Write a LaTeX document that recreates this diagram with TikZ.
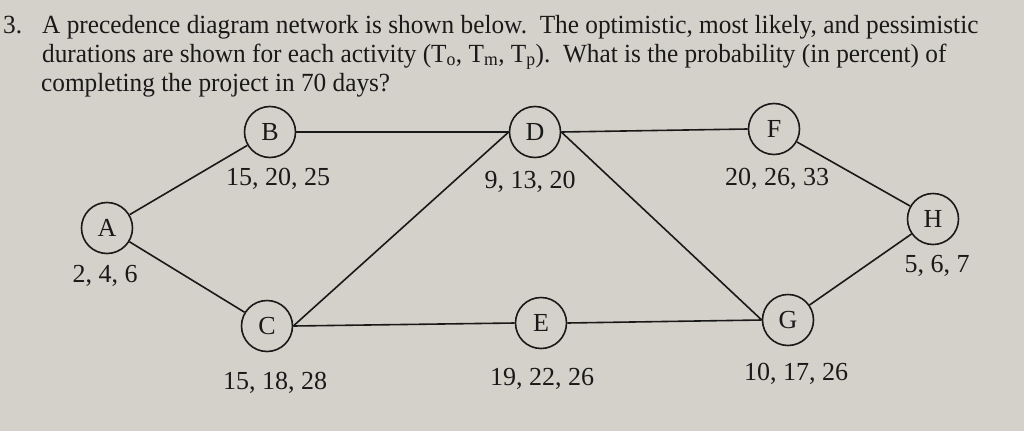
\documentclass[tikz,border=0pt]{standalone}
\usepackage{fontspec}
\setmainfont{Liberation Serif}
\newfontfamily\qfont[FakeStretch=0.965]{Liberation Serif}
\definecolor{paper}{RGB}{212,209,202}
\definecolor{ink}{RGB}{25,25,25}
\begin{document}
\begin{tikzpicture}[x=1pt,y=-1pt,
  act/.style={circle,draw=ink,line width=1.6pt,minimum size=51pt,inner sep=0pt,
    font=\fontsize{26}{28}\selectfont,text=ink},
  dur/.style={font=\fontsize{26}{28}\selectfont,text=ink,inner sep=0pt},
  txt/.style={font=\qfont\fontsize{26.2}{30}\selectfont,text=ink,inner sep=0pt,anchor=base west},
  link/.style={draw=ink,line width=1.6pt}]
\fill[paper] (0,0) rectangle (1024,431);
\useasboundingbox (0,0) rectangle (1024,431);
% question text
\node[txt] (q0) at (3,33) {3.};
\node[txt] (q1) at (42,33) {A precedence diagram network is shown below.\ \ The optimistic, most likely, and pessimistic};
\node[txt] (q2) at (42,62) {durations are shown for each activity (T\textsubscript{o}, T\textsubscript{m}, T\textsubscript{p}).\ \ What is the probability (in percent) of};
\node[txt] (q3) at (41,91) {completing the project in 70 days?};
% activities
\node[act] (A) at (107,228) {A};
\node[act] (B) at (270,132) {B};
\node[act] (C) at (267,326) {C};
\node[act] (D) at (535,132) {D};
\node[act] (E) at (541,323) {E};
\node[act] (F) at (774,129) {F};
\node[act] (G) at (788,320) {G};
\node[act] (H) at (933,219) {H};
% durations
\node[dur] (dA) at (105,276) {2, 4, 6};
\node[dur] (dB) at (278,179) {15, 20, 25};
\node[dur] (dD) at (530,182) {9, 13, 20};
\node[dur] (dF) at (777,179) {20, 26, 33};
\node[dur] (dH) at (937,266) {5, 6, 7};
\node[dur] (dC) at (275,383) {15, 18, 28};
\node[dur] (dE) at (542,379) {19, 22, 26};
\node[dur] (dG) at (796,374) {10, 17, 26};
% connectors
\draw[link] (A) -- (B);
\draw[link] (A) -- (C);
\draw[link] (B.east) -- (D.west);
\draw[link] (C.east) -- (D.west);
\draw[link] (C.east) -- (E.west);
\draw[link] (D.east) -- (F.west);
\draw[link] (D.east) -- (G.west);
\draw[link] (E.east) -- (G.west);
\draw[link] (F) -- (H);
\draw[link] (G) -- (H);
\end{tikzpicture}
\end{document}
